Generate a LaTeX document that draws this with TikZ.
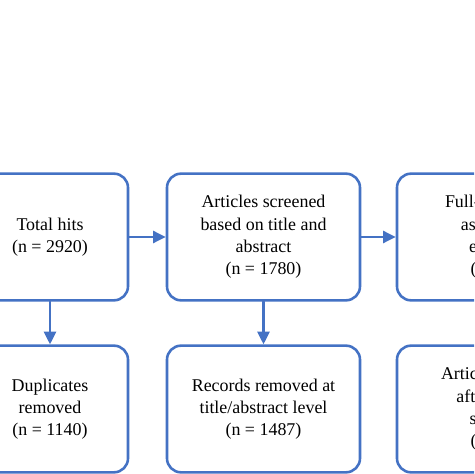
\documentclass[tikz,border=0pt]{standalone}
\usepackage{fontspec}
\setmainfont{Liberation Serif}
\usepackage{tikz}
\usetikzlibrary{arrows.meta}
\usetikzlibrary{positioning}
\definecolor{boxblue}{RGB}{68,114,196}

\begin{document}
\begin{tikzpicture}[line cap=round,line join=round,x=0.03cm,y=0.03cm,
  stagebox/.style={draw=boxblue,line width=2.2pt,rounded corners=0.42cm,align=center,
    minimum height=3.8cm,inner sep=0pt,font=\fontsize{15.3pt}{19pt}\selectfont},
  flowarrow/.style={draw=boxblue,line width=2.2pt,-{Triangle[length=0.38cm,width=0.36cm]}}]
\useasboundingbox (0,0) rectangle (474,474);
\clip (0,0) rectangle (474,474);
% top row
\node[stagebox,minimum width=4.68cm] (hits) at (50,237) {Total hits\\(n = 2920)};
\node[stagebox,minimum width=5.79cm] (screened) at (263.5,237) {Articles screened\\based on title and\\abstract\\(n = 1780)};
\node[stagebox,minimum width=6.42cm] (fulltext) at (504,237) {Full-text articles\\assessed for\\eligibility\\(n = 293)};
% bottom row
\node[stagebox,minimum width=4.68cm] (dupl) at (50,65) {Duplicates\\removed\\(n = 1140)};
\node[stagebox,minimum width=5.79cm] (removed) at (263.5,65) {Records removed at\\title/abstract level\\(n = 1487)};
\node[stagebox,minimum width=6.42cm] (excluded) at (504,65) {Articles excluded\\after full-text\\screening\\(n = 245)};
% arrows
\draw[flowarrow] (hits) -- (screened);
\draw[flowarrow] (screened) -- (fulltext);
\draw[flowarrow] (hits) -- (dupl);
\draw[flowarrow] (screened) -- (removed);
\end{tikzpicture}
\end{document}
